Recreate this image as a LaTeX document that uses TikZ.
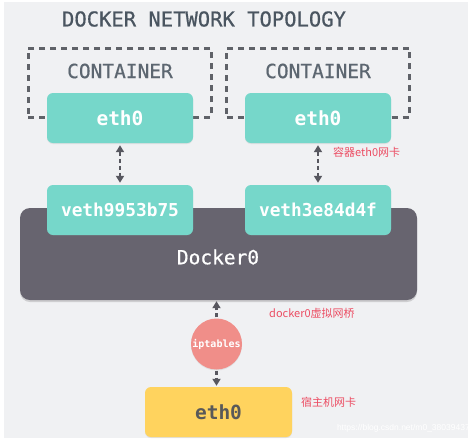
\documentclass[tikz,border=0pt]{standalone}
\usepackage{fontspec}
\setmonofont{DejaVu Sans Mono}
\newfontfamily\medmono[RawFeature={embolden=0.6}]{DejaVu Sans Mono}
\newfontfamily\cjk{Noto Sans CJK SC}
\newfontfamily\wmfont{Liberation Sans}
\usetikzlibrary{arrows.meta,shadows}
\definecolor{bgc}{HTML}{F0F1F3}
\definecolor{tealc}{HTML}{76D7CA}
\definecolor{darkc}{HTML}{67646F}
\definecolor{pinkc}{HTML}{F08E89}
\definecolor{yellowc}{HTML}{FFD35E}
\definecolor{dashc}{HTML}{5F6268}
\definecolor{titlec}{HTML}{4A5560}
\definecolor{redc}{HTML}{EC4D63}
\definecolor{arrowc}{HTML}{57575F}
\tikzset{
  tealbox/.style={fill=tealc, rounded corners=6pt, minimum width=146pt, minimum height=50pt,
    text=white, font=\ttfamily\bfseries\fontsize{19.5}{22}\selectfont, inner sep=0pt,
    drop shadow={opacity=0.15, shadow xshift=0pt, shadow yshift=-1pt}},
  vethbox/.style={tealbox, font=\ttfamily\bfseries\fontsize{17.8}{22}\selectfont},
  containerbox/.style={draw=dashc, line width=3pt, dash pattern=on 6pt off 5pt,
    minimum width=183pt, minimum height=69pt, inner sep=0pt},
  conttext/.style={text=titlec!90, font=\medmono\fontsize{19.5}{22}\selectfont, inner sep=0pt},
  darrow/.style={draw=arrowc, line width=2.6pt, dash pattern=on 4pt off 3pt,
    {Triangle[length=7pt,width=8pt]}-{Triangle[length=7pt,width=8pt]}, shorten <=2pt, shorten >=2pt},
  sarrow/.style={draw=arrowc, line width=2.6pt, dash pattern=on 4pt off 3pt,
    -{Triangle[length=7pt,width=8pt]}, shorten <=1pt, shorten >=1pt},
  note/.style={text=redc, font=\cjk\fontsize{11}{13}\selectfont, anchor=west, inner sep=0pt}
}
\begin{document}
\begin{tikzpicture}[x=1pt,y=-1pt]
\useasboundingbox (0,0) rectangle (474,440);
\fill[white] (0,0) rectangle (474,440);
\fill[bgc] (4,2) rectangle (468,438);

% title
\node[text=titlec, font=\medmono\fontsize{20.5}{24}\selectfont, inner sep=0pt] (title) at (204,19) {DOCKER NETWORK TOPOLOGY};

% containers
\node[containerbox] (c1) at (119.5,82.5) {};
\node[containerbox] (c2) at (318,82.5) {};
\node[conttext] (c1t) at (120,71) {CONTAINER};
\node[conttext] (c2t) at (318,71) {CONTAINER};

\node[tealbox] (e1) at (120,118) {eth0};
\node[tealbox] (e2) at (318,118) {eth0};

% docker0 bridge
\node[fill=darkc, rounded corners=10pt, minimum width=397pt, minimum height=92pt, inner sep=0pt,
  drop shadow={opacity=0.3, shadow xshift=0pt, shadow yshift=-2pt}] (d0) at (218.5,254) {};
\node[text=white, font=\medmono\fontsize{19.5}{22}\selectfont, inner sep=0pt] (d0t) at (218,257) {Docker0};

\node[vethbox] (v1) at (120,210) {veth9953b75};
\node[vethbox] (v2) at (318,210) {veth3e84d4f};

\draw[darrow] (e1.south) -- (v1.north);
\draw[darrow] (e2.south) -- (v2.north);

% iptables
\node[circle, fill=pinkc, minimum size=51pt, inner sep=0pt, text=white,
  font=\ttfamily\bfseries\fontsize{10}{12}\selectfont,
  drop shadow={opacity=0.15, shadow xshift=0pt, shadow yshift=-1pt}] (ipt) at (216.5,344) {iptables};

% host eth0
\node[fill=yellowc, rounded corners=6pt, minimum width=147pt, minimum height=50pt, inner sep=0pt,
  text=black!65, font=\ttfamily\bfseries\fontsize{19.5}{22}\selectfont,
  drop shadow={opacity=0.15, shadow xshift=0pt, shadow yshift=-1pt}] (host) at (218.5,412) {eth0};

\draw[sarrow] (ipt.north) -- (ipt.north |- d0.south);
\draw[sarrow] (ipt.south) -- (ipt.south |- host.north);

% notes
\node[note] (n1) at (333,152) {容器eth0网卡};
\node[note] (n2) at (269,313) {docker0虚拟网桥};
\node[note] (n3) at (301,402) {宿主机网卡};

% watermark
\node[text=white, font=\wmfont\fontsize{8.5}{10}\selectfont, anchor=east, inner sep=0pt] (wm) at (470,428) {https://blog.csdn.net/m0\_38039437};
\end{tikzpicture}
\end{document}
